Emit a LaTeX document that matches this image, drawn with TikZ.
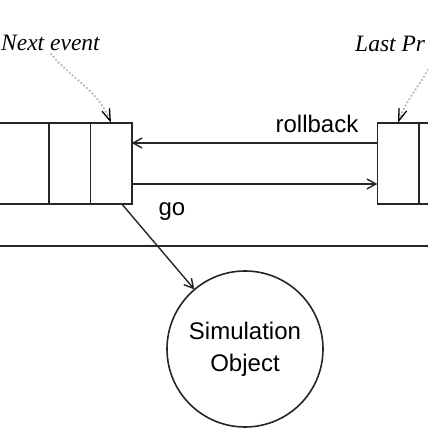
\documentclass[tikz,border=0pt]{standalone}
\usepackage{fontspec}
\setmainfont{Liberation Sans}
\newfontfamily\tms{Liberation Serif}
\usepackage{tikz}
\usetikzlibrary{arrows.meta, positioning}
\tikzstyle{cell} = [rectangle, minimum width=41pt, minimum height=81pt]
\tikzstyle{edge} = [black!85, line width=1.6pt]
\tikzstyle{arrow} = [black!85, line width=1.4pt, -{Straight Barb[length=9pt,width=10pt]}]
\tikzstyle{pointer} = [gray!55, dotted, line width=1.8pt, -{Straight Barb[length=12pt,width=8pt,color=black,line width=1.3pt]}]
\tikzstyle{evtext} = [font=\fontsize{23.5}{28}\selectfont\tms\itshape, inner sep=2pt]

\begin{document}
\begin{tikzpicture}[x=1pt, y=1pt, node distance=0cm, font=\fontsize{24}{32}\selectfont]
    \useasboundingbox (0,0) rectangle (428,428);

    % queue on the left
    \node (c3) [cell] at (111,264.5) {};
    \node (c2) [cell, left=of c3] {};
    \node (c1) [cell, left=of c2, minimum width=62pt] {};

    % queue on the right
    \node (r1) [cell] at (398,264.5) {};
    \node (r2) [cell, right=of r1] {};

    \foreach \q in {c1,c2,c3,r1,r2}
        \draw[edge] (\q.north west) rectangle (\q.south east);

    \draw[arrow] ([yshift=20.5pt]r1.west) -- ([yshift=20.5pt]c3.east);
    \draw[arrow] ([yshift=-20.5pt]c3.east) -- ([yshift=-20.5pt]r1.west);
    \node (rb) [anchor=base] at (317,295) {rollback};
    \node (go) [anchor=base] at (172,212.5) {go};

    \coordinate (bl) at (0,182);
    \coordinate (br) at (428,182);
    \draw[edge] (bl) -- (br);

    \node (sim) [circle, minimum size=156pt, inner sep=0pt, align=center] at (245,79) {Simulation\\Object};
    \draw[edge] (sim.center) circle (78pt);
    \draw[arrow] ([xshift=11pt]c3.south) -- (sim);

    % pointers
    \node (next) [evtext, anchor=base west] at (-1,377) {Next event};
    \draw[pointer] (next.south) to[out=-50, in=112] (c3.north);
    \node (last) [evtext, anchor=base west] at (353,376) {Last Pr};
    \coordinate (lp) at (430,362);
    \draw[pointer] (lp) to[out=-118, in=70] (r1.north);
\end{tikzpicture}
\end{document}
